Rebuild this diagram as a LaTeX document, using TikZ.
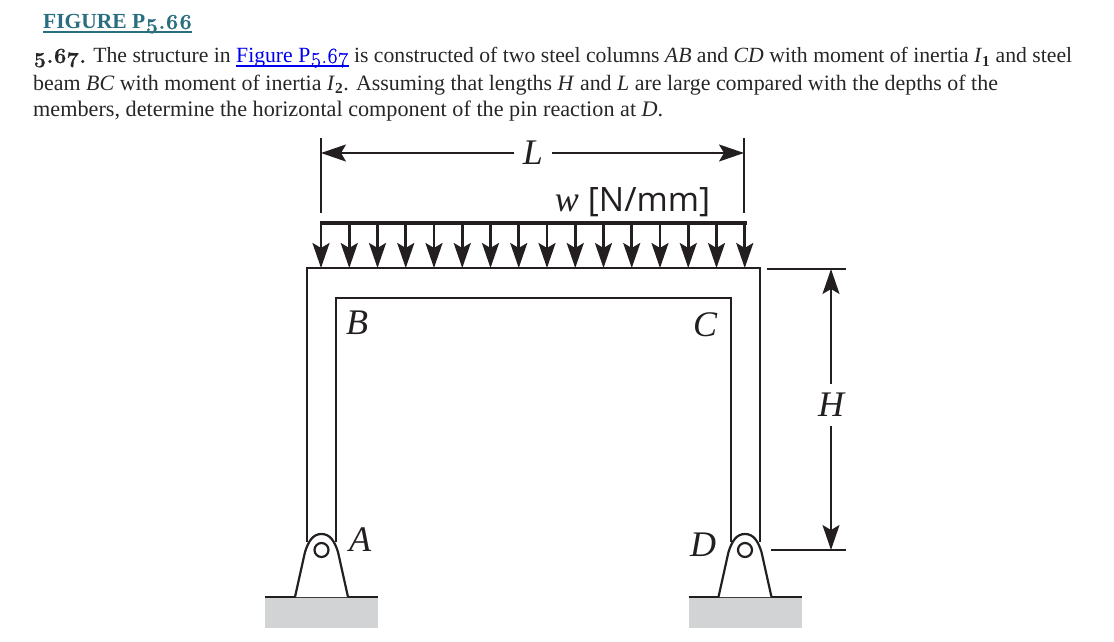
\documentclass[tikz,border=0pt]{standalone}
\usepackage{fontspec}
\setmainfont{Liberation Serif}
\newfontfamily\onum[Numbers=OldStyle,FakeBold=0.6]{Latin Modern Roman}
\newfontfamily\unitfont{Open Sans}
\usetikzlibrary{arrows.meta}
\definecolor{figlink}{HTML}{2A6F7F}
\definecolor{pagelink}{HTML}{0000EE}
\definecolor{ink}{HTML}{231F20}
\definecolor{groundgray}{HTML}{D1D3D4}
\newsavebox\ulbox
\def\vline#1{\sbox\ulbox{#1}\rlap{\raisebox{-3.6pt}{\rule{\wd\ulbox}{1.6pt}}}\usebox\ulbox}
\def\vtxt#1{\fontsize{#1}{25}\selectfont}
\def\vlab{\fontsize{36}{40}\selectfont\itshape}
\tikzset{
	txtline/.style={anchor=base west, inner sep=0pt, text=black!85},
	member/.style={draw=ink, line width=2.2pt},
	dimline/.style={draw=ink, line width=1.8pt},
	dimtip/.style={dimline, -{Stealth[length=25pt, width=17pt, inset=5pt]}},
	loadtip/.style={draw=ink, line width=2.6pt, -{Stealth[length=25pt, width=17pt, inset=5pt]}},
	lab/.style={text=ink, inner sep=9pt, font=\vlab},
}
\begin{document}
\begin{tikzpicture}[x=1pt, y=-1pt]
				\useasboundingbox (0,0) rectangle (1114,642);
				% text above the figure
				\node[txtline] (head) at (43,29) {\vtxt{21.5}\bfseries\color{figlink}\vline{FIGURE P{\onum 5.66}}};
				\node[txtline] (one) at (33,63) {\vtxt{21.7}\textbf{\onum 5.67.} The structure in {\color{pagelink}\vline{Figure P{\onum 5.67}}} is constructed of two steel columns \textit{AB} and \textit{CD} with moment of inertia \textit{I}\textsubscript{\textbf{1}} and steel};
				\node[txtline] (two) at (33,90) {\vtxt{21.93}beam \textit{BC} with moment of inertia \textit{I}\textsubscript{\textbf{2}}. Assuming that lengths \textit{H} and \textit{L} are large compared with the depths of the};
				\node[txtline] (three) at (33,117) {\vtxt{22.2}members, determine the horizontal component of the pin reaction at \textit{D}.};
				% ground and supports
				\foreach \x/\name in {321.5/A,745/D} {
					\fill[groundgray] (\x-56.5,597) rectangle (\x+56.5,628);
					\draw[member] (\x-56.5,597) -- (\x+56.5,597);
				}
				% frame
				\draw[member] (307,542) -- (307,268) -- (760,268) -- (760,542);
				\draw[member] (336,542) -- (336,298) -- (731,298) -- (731,542);
				\foreach \x/\name in {321.5/A,745/D} {
					\draw[member, fill=white] (\x-26.5,597) -- (\x-16.5,552) .. controls (\x-13,541) and (\x-8.5,534) .. (\x,534) .. controls (\x+8.5,534) and (\x+13,541) .. (\x+16.5,552) -- (\x+26.5,597);
					\node[draw=ink, line width=2.2pt, circle, minimum size=14pt, inner sep=0pt] (pin\name) at (\x,550) {};
				}
				% distributed load
				\draw[ink, line width=3.4pt] (319.7,223) -- (746.7,223);
				\foreach \i in {0,...,15} {
					\coordinate (top\i) at (321+28.25*\i,223);
					\coordinate (tip\i) at (321+28.25*\i,268);
					\draw[loadtip] (top\i) -- (tip\i);
				}
				\node[text=ink, anchor=base, inner sep=0pt] (w) at (632.5,211) {\vlab w \fontsize{33.6}{36}\selectfont\upshape\unitfont [N/mm]};
				% dimension L
				\node[lab] (L) at (533,153) {L};
				\coordinate (Lleft) at (321,153);
				\coordinate (Lright) at (744,153);
				\draw[dimtip] (L) -- (Lleft);
				\draw[dimtip] (L) -- (Lright);
				\draw[dimline] (321,138) -- (321,213);
				\draw[dimline] (744,138) -- (744,213);
				% dimension H
				\node[lab] (H) at (831,405) {H};
				\coordinate (Htop) at (831,269);
				\coordinate (Hbot) at (831,550);
				\draw[dimtip] (H) -- (Htop);
				\draw[dimtip] (H) -- (Hbot);
				\draw[dimline] (767,269) -- (846,269);
				\draw[dimline] (771,550) -- (846,550);
				% joints
				\node[lab] (B) at (357,323) {B};
				\node[lab] (C) at (705,325) {C};
				\node[lab] (A) at (360,540) {A};
				\node[lab] (D) at (703,545) {D};
			\end{tikzpicture}
\end{document}
